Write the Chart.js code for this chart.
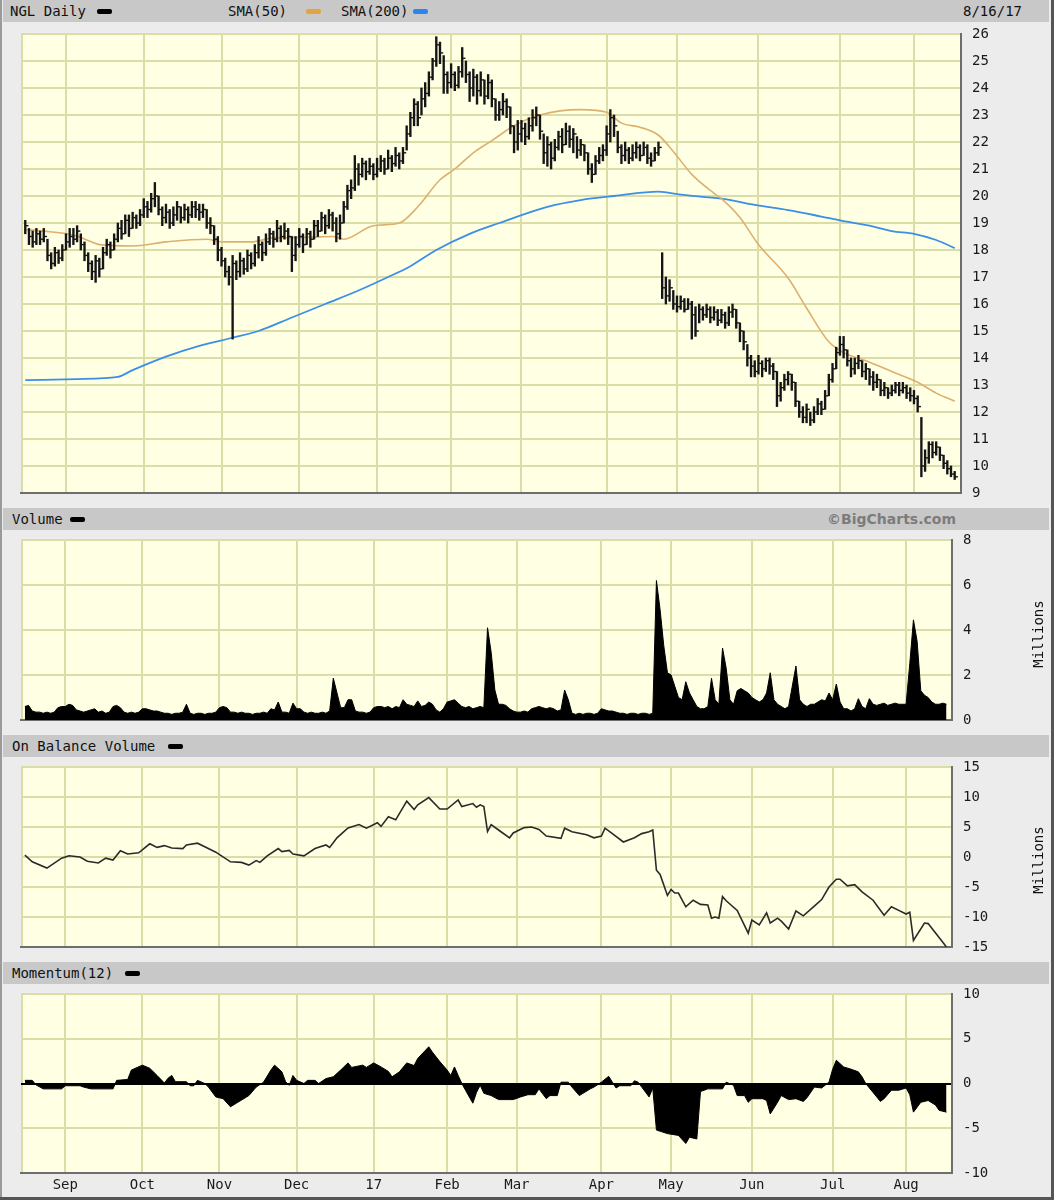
<!DOCTYPE html>
<html>
<head>
<meta charset="utf-8">
<script src="https://cdn.jsdelivr.net/npm/chart.js@4.4.1/dist/chart.umd.min.js"></script>
<style>
  body { margin: 0; background: #fff; }
  #wrap { position: relative; width: 1054px; height: 1200px; background: #ececec; overflow: hidden;
          font-family: 'DejaVu Sans Mono', monospace; font-size: 14px; color: #111; }
  .hdr { position: absolute; left: 3px; width: 1046px; height: 22px; background: #c8c8c8; }
  .hdr span { position: absolute; top: 11px; transform: translateY(-50%); white-space: pre; }
  .sw { position: absolute; top: 9px; width: 15px; height: 5px; border-radius: 2px; }
  canvas { position: absolute; left: 0; }
  .mil { position: absolute; transform: translate(-50%, -50%) rotate(-90deg); white-space: nowrap; }
  .edge { position: absolute; }
</style>
</head>
<body>
<div id="wrap">
  <div class="hdr" style="top:0">
    <span style="left:7px">NGL Daily</span><div class="sw" style="left:94px;background:#000"></div>
    <span style="left:225px">SMA(50)</span><div class="sw" style="left:303px;background:#e3a43c"></div>
    <span style="left:338px">SMA(200)</span><div class="sw" style="left:410px;background:#2a86ee"></div>
    <span style="right:27px">8/16/17</span>
  </div>
  <div class="hdr" style="top:508px">
    <span style="left:9px">Volume</span><div class="sw" style="left:67px;background:#000"></div>
    <span style="right:93px;font-family:'DejaVu Sans',sans-serif;font-weight:bold;color:#7c7c7c">©BigCharts.com</span>
  </div>
  <div class="hdr" style="top:735px">
    <span style="left:9px">On Balance Volume</span><div class="sw" style="left:165px;background:#000"></div>
  </div>
  <div class="hdr" style="top:962px">
    <span style="left:9px">Momentum(12)</span><div class="sw" style="left:122px;background:#000"></div>
  </div>

  <canvas id="price" width="1054" height="479" style="top:24px"></canvas>
  <canvas id="volume" width="1054" height="200" style="top:530px"></canvas>
  <canvas id="obv" width="1054" height="200" style="top:757px"></canvas>
  <canvas id="mom" width="1054" height="211" style="top:984px"></canvas>

  <div class="mil" style="left:1038px;top:634px">Millions</div>
  <div class="mil" style="left:1038px;top:860px">Millions</div>

  <div class="edge" style="left:0;top:0;width:2px;height:1200px;background:#9a9a9a"></div>
  <div class="edge" style="left:1051px;top:0;width:3px;height:1200px;background:#555"></div>
  <div class="edge" style="left:0;top:1197px;width:1054px;height:3px;background:#555"></div>
</div>

<script>
'use strict';

// trading day index of each month start (0 = Aug 17 2016)
const monthIdx = [11, 32, 53, 74, 95, 115, 134, 157, 176, 198, 220, 240];
const monthLbl = ['Sep', 'Oct', 'Nov', 'Dec', '17', 'Feb', 'Mar', 'Apr', 'May', 'Jun', 'Jul', 'Aug'];

// daily bars
const hi = [19.1,18.8,18.7,18.8,18.7,18.8,18.4,17.9,18.1,18.0,18.2,
  18.6,18.8,18.8,18.9,18.6,18.3,17.9,17.6,17.8,17.7,18.1,18.4,18.3,18.6,19.0,19.1,19.3,19.3,19.4,19.3,19.5,
  19.9,19.8,20.1,20.5,20.0,19.6,19.7,19.5,19.6,19.8,19.6,19.7,19.6,19.8,19.8,19.7,19.7,19.5,19.2,18.9,18.5,
  18.1,17.7,17.4,17.8,17.6,17.9,17.7,18.0,17.9,18.2,18.5,18.3,18.6,18.8,18.7,19.1,18.9,19.0,18.8,18.5,18.5,
  18.8,18.6,18.8,18.7,19.1,19.1,19.4,19.3,19.5,19.4,19.2,19.3,19.8,20.4,20.6,21.5,21.2,21.4,21.3,21.4,21.2,
  21.4,21.5,21.4,21.7,21.5,21.8,21.6,21.8,22.6,23.1,23.6,23.5,24.0,24.2,24.6,25.1,25.9,25.7,25.2,24.6,
  24.9,24.6,24.8,25.5,25.0,24.6,24.7,24.5,24.6,24.3,24.5,24.3,23.6,23.5,23.8,23.6,23.3,22.6,22.8,
  22.8,22.7,22.9,23.2,23.3,23.0,22.3,22.2,22.0,22.1,22.4,22.5,22.7,22.6,22.5,22.2,22.1,21.9,21.6,21.2,21.5,21.8,21.9,
  22.6,23.2,23.0,22.4,21.9,22.0,21.8,21.9,22.0,21.9,22.0,21.9,21.6,21.8,22.0,
  17.9,17.0,16.9,16.5,16.3,16.3,16.2,16.2,16.1,15.9,16.0,15.9,16.0,15.9,15.9,15.8,15.8,15.7,15.9,16.0,15.8,15.3,15.0,14.5,14.1,13.9,
  14.1,13.9,14.0,14.0,13.8,13.5,13.1,13.4,13.5,13.4,13.1,12.4,12.2,12.3,12.0,12.2,12.5,12.4,12.8,13.4,13.8,14.4,
  14.8,14.8,14.3,14.0,14.0,14.1,13.9,13.8,13.6,13.5,13.4,13.2,13.1,12.9,13.0,13.1,13.1,13.1,13.0,12.9,
  12.8,12.6,11.8,10.6,10.9,10.9,10.9,10.7,10.4,10.2,10.0,9.8];
const lo = [18.6,18.2,18.1,18.2,18.2,18.3,17.6,17.3,17.4,17.5,17.6,
  18.0,18.1,18.2,18.3,18.0,17.6,17.2,16.9,16.8,17.0,17.3,17.8,17.7,18.0,18.3,18.4,18.6,18.5,18.8,18.8,18.9,
  19.2,19.2,19.4,19.6,19.3,18.9,19.0,18.8,18.9,19.1,19.0,19.1,19.0,19.2,19.2,19.1,19.2,18.8,18.6,18.2,17.6,
  17.4,17.0,16.7,14.7,16.9,17.0,17.1,17.2,17.3,17.4,17.7,17.6,17.8,18.2,18.1,18.3,18.3,18.4,18.2,17.2,17.6,
  18.1,17.9,18.2,18.1,18.4,18.5,18.7,18.6,18.8,18.7,18.3,18.4,19.0,19.5,19.9,20.2,20.4,20.7,20.6,20.8,20.6,
  20.7,20.9,20.8,21.0,20.9,21.1,21.0,21.2,21.7,22.2,22.6,22.6,23.0,23.3,23.7,24.3,24.8,24.9,23.8,23.8,
  24.0,23.9,24.0,24.4,24.2,23.5,23.7,23.4,23.7,23.4,23.6,23.3,22.8,22.8,23.0,22.9,22.3,21.6,21.7,
  22.0,21.9,22.1,22.4,22.6,22.1,21.2,21.1,21.0,21.3,21.7,21.6,21.9,21.8,21.6,21.4,21.5,21.3,20.8,20.5,20.8,21.2,21.3,
  21.5,22.0,22.2,21.6,21.2,21.3,21.2,21.3,21.4,21.3,21.5,21.2,21.1,21.3,21.5,
  16.2,16.0,16.1,15.8,15.7,15.8,15.7,15.8,14.7,14.8,15.3,15.4,15.5,15.3,15.4,15.2,15.3,15.1,15.2,15.5,15.1,14.6,14.3,13.7,13.3,13.3,
  13.4,13.3,13.5,13.4,13.2,12.2,12.4,12.8,13.0,12.8,12.2,11.8,11.6,11.6,11.5,11.6,11.9,11.9,12.1,12.6,13.1,13.6,
  14.1,14.0,13.7,13.3,13.4,13.6,13.3,13.2,13.0,12.8,12.9,12.6,12.6,12.5,12.6,12.7,12.6,12.7,12.5,12.4,
  12.3,12.0,9.6,9.8,10.1,10.3,10.4,10.2,9.9,9.7,9.6,9.5];
const cl = [18.9,18.5,18.3,18.6,18.4,18.5,17.8,17.5,17.9,17.7,18.0,
  18.3,18.5,18.4,18.7,18.2,17.8,17.5,17.2,17.6,17.3,17.9,18.2,18.0,18.4,18.8,18.6,19.1,18.8,19.2,19.0,19.3,
  19.6,19.5,19.9,20.0,19.5,19.2,19.4,19.0,19.3,19.6,19.2,19.5,19.3,19.6,19.5,19.4,19.5,19.0,18.9,18.4,18.0,
  17.6,17.2,17.0,17.5,17.2,17.6,17.3,17.8,17.5,17.9,18.2,17.9,18.3,18.6,18.4,18.8,18.5,18.7,18.5,17.8,18.2,
  18.5,18.2,18.6,18.4,18.9,18.7,19.2,18.9,19.3,19.0,18.6,19.0,19.6,20.2,20.3,21.0,20.8,21.2,20.9,21.1,20.8,
  21.0,21.3,21.0,21.4,21.2,21.5,21.3,21.6,22.3,22.9,23.4,22.9,23.6,23.8,24.4,25.0,25.6,25.3,24.5,24.2,
  24.5,24.1,24.6,25.1,24.5,24.0,24.4,23.9,24.3,23.7,24.2,23.6,23.0,23.2,23.5,23.3,22.6,22.0,22.3,
  22.5,22.2,22.6,22.9,23.0,22.4,21.6,21.9,21.4,21.8,22.2,21.9,22.4,22.1,22.3,21.7,21.9,21.6,21.0,20.8,21.3,21.5,21.7,
  22.3,22.9,22.6,21.8,21.5,21.7,21.4,21.6,21.8,21.5,21.8,21.4,21.3,21.6,21.8,
  16.6,16.3,16.6,16.0,15.9,16.1,15.8,16.0,15.6,15.0,15.8,15.6,15.8,15.5,15.7,15.4,15.6,15.3,15.7,15.8,15.3,15.0,14.6,14.0,13.7,13.5,
  13.8,13.6,13.9,13.7,13.5,12.6,12.9,13.2,13.4,13.1,12.4,12.0,11.8,12.1,11.7,12.0,12.3,12.1,12.6,13.2,13.6,14.2,
  14.5,14.3,13.9,13.6,13.8,13.9,13.5,13.6,13.3,13.1,13.2,12.8,12.9,12.7,12.8,13.0,12.8,12.9,12.7,12.6,
  12.5,12.2,10.0,10.3,10.8,10.5,10.7,10.4,10.1,9.9,9.7,9.6];

// volume, millions
const vol = [0.6,0.65,0.4,0.35,0.35,0.3,0.35,0.3,0.35,0.55,0.6,
  0.6,0.7,0.65,0.45,0.4,0.35,0.4,0.45,0.5,0.35,0.4,0.3,0.35,0.6,0.65,0.55,0.35,0.3,0.35,0.3,0.35,
  0.5,0.5,0.45,0.4,0.4,0.35,0.3,0.3,0.25,0.3,0.3,0.35,0.7,0.3,0.25,0.3,0.3,0.25,0.3,0.3,0.35,
  0.55,0.6,0.55,0.35,0.35,0.3,0.35,0.3,0.3,0.25,0.3,0.3,0.35,0.3,0.5,0.45,0.8,0.35,0.35,0.3,0.75,
  0.5,0.5,0.35,0.3,0.35,0.3,0.3,0.35,0.3,0.4,1.86,1.2,0.55,0.55,0.9,0.9,0.4,0.35,0.35,0.3,0.35,
  0.55,0.6,0.6,0.55,0.6,0.5,0.6,0.55,0.9,0.7,0.65,0.6,0.85,0.6,0.65,0.8,0.7,0.45,0.35,0.5,
  0.8,0.85,0.9,0.75,0.6,0.55,0.6,0.5,0.55,0.6,0.55,4.1,3.0,1.33,0.7,0.7,0.65,0.5,0.4,
  0.35,0.35,0.4,0.35,0.5,0.55,0.6,0.55,0.5,0.55,0.5,0.4,0.45,1.33,0.9,0.3,0.25,0.3,0.25,0.3,0.3,0.25,0.3,
  0.5,0.45,0.4,0.4,0.35,0.3,0.3,0.25,0.3,0.3,0.25,0.3,0.3,0.25,0.3,
  6.2,4.9,3.3,2.1,2.0,1.5,1.0,0.9,1.7,1.2,0.9,0.6,0.5,0.5,0.6,1.85,0.9,0.7,3.2,2.3,0.9,0.7,1.3,1.4,1.3,1.2,
  1.0,0.9,0.8,0.9,1.2,2.1,0.9,0.7,0.6,0.5,0.6,1.5,2.4,0.9,0.7,0.6,0.7,0.7,0.8,0.9,0.85,1.2,
  0.9,1.6,0.8,0.5,0.5,0.4,0.5,0.95,0.6,0.5,0.95,0.7,0.65,0.7,0.75,0.65,0.7,0.75,0.7,0.7,
  0.7,2.5,4.45,3.5,1.3,1.1,1.0,0.8,0.7,0.7,0.75,0.7];

// moving averages, read at selected days
const sma50Day = [0,5,13,18,20,29,38,49,53,61,67,76,83,86,94,101,106,112,116,121,126,132,139,150,157,161,166,171,175,180,186,188,193,198,206,211,217,221,227,234,241,246,251];
const sma50Val = [18.75,18.7,18.55,18.3,18.2,18.15,18.3,18.4,18.3,18.3,18.45,18.47,18.5,18.4,18.9,19.0,19.6,20.6,21.0,21.6,22.05,22.6,23.0,23.2,23.1,22.7,22.55,22.25,21.65,20.8,20.1,19.9,19.2,18.2,16.96,15.85,14.6,14.2,13.9,13.5,13.1,12.7,12.4];
const sma200Day = [0,14,25,29,38,47,56,63,72,81,90,98,104,111,120,128,141,150,159,171,177,188,197,206,215,220,228,234,240,246,251];
const sma200Val = [13.18,13.22,13.3,13.55,14.05,14.45,14.75,15.0,15.5,16.0,16.5,17.0,17.4,18.0,18.6,19.0,19.6,19.85,20.0,20.16,20.05,19.9,19.67,19.48,19.24,19.1,18.9,18.7,18.6,18.37,18.07];

// on balance volume, millions
const obvDay = [0,2,6,10,12,15,17,20,22,24,26,28,31,34,36,38,40,43,44,47,49,52,56,59,61,63,64,66,69,70,72,73,76,79,82,83,85,88,91,93,96,97,99,101,104,106,107,110,113,115,118,119,122,123,124,125,126,127,129,132,133,136,138,140,142,146,147,149,153,155,157,158,160,163,166,168,170,171,172,173,175,176,177,178,180,182,184,186,187,188,189,190,191,194,197,198,200,202,203,205,206,208,210,212,215,217,219,221,222,224,226,228,231,234,236,238,240,241,242,245,246,251];
const obvVal = [0.3,-0.8,-1.85,-0.2,0.2,0,-0.7,-1.0,-0.2,-0.5,1.05,0.5,0.7,2.2,1.6,1.9,1.5,1.4,2.0,2.3,1.7,0.8,-0.8,-0.9,-1.35,-0.6,-0.9,0.2,1.4,0.9,1.1,0.5,0.2,1.4,2.0,1.6,3.2,4.85,5.4,4.8,5.7,5.1,6.7,6.2,9.3,7.9,8.7,9.9,8.0,8.0,9.5,8.4,8.9,8.3,8.7,8.4,4.25,5.4,4.5,3.2,4.0,4.9,5.0,4.6,3.5,3.1,4.8,4.2,3.7,3.2,3.5,4.8,3.9,2.5,3.2,3.9,4.2,4.5,-2.2,-2.9,-6.4,-5.4,-6.0,-6.0,-8.3,-7.2,-7.9,-8.0,-10.2,-10.0,-10.2,-6.6,-7.3,-8.9,-12.7,-10.5,-11.3,-9.3,-11.0,-10.2,-10.7,-12.0,-9.0,-9.8,-8.2,-7.1,-5.0,-3.7,-3.7,-4.8,-4.6,-5.8,-7.2,-9.7,-8.3,-8.9,-9.5,-9.2,-13.9,-11.0,-11.1,-15.0];

// momentum(12)
const momDay = [0,2,3,5,10,11,15,16,18,24,25,28,29,32,34,36,38,39,40,41,44,45,46,47,49,50,52,54,56,58,61,63,65,67,68,70,71,72,73,74,76,77,79,80,82,84,86,88,89,92,93,95,97,99,100,102,104,106,107,110,111,113,115,116,117,118,119,120,122,123,124,125,127,129,133,135,137,139,140,142,143,145,146,148,149,151,152,154,155,157,159,160,161,162,165,166,167,168,170,171,172,175,178,180,181,183,184,186,190,191,193,194,196,197,198,201,202,203,205,206,208,210,212,213,215,217,219,220,221,223,225,227,228,229,231,233,234,236,238,240,241,242,244,246,248,249,251];
const momVal = [0.35,0.35,-0.15,-0.6,-0.6,-0.25,-0.25,-0.4,-0.6,-0.6,0.35,0.45,1.5,2.05,1.7,0.9,0.05,0.6,0.9,0.2,0.2,-0.25,-0.25,0.35,0.0,-0.4,-1.5,-1.7,-2.6,-2.1,-1.35,-0.4,0.15,1.5,2.05,1.3,0.2,-0.2,0.9,0.35,0.0,0.35,0.35,0.0,0.55,0.75,1.5,2.3,1.8,2.05,1.8,2.3,1.85,1.35,0.75,1.3,2.3,2.0,2.8,4.1,3.5,2.45,1.5,0.9,1.85,0.9,0,-0.75,-2.2,-1.0,-0.2,-1.1,-1.35,-1.8,-1.8,-1.5,-1.25,-1.25,-0.6,-1.7,-1.35,-1.35,0.15,0.15,-0.4,-1.35,-1.1,-0.6,-0.4,0.15,0.8,0.15,-0.5,-0.25,-0.25,0.3,0.15,-0.4,-1.5,-0.5,-5.2,-5.6,-5.8,-6.7,-6.0,-6.2,-0.9,-0.6,-0.6,0.15,-0.2,-1.35,-1.35,-2.1,-1.7,-1.7,-1.9,-3.4,-2.1,-1.35,-1.8,-1.7,-2.0,-1.6,-0.4,-0.5,0.15,1.6,2.6,1.85,1.6,1.3,0.75,0,-1.0,-2.0,-1.7,-0.75,-0.75,-0.5,-1.25,-3.2,-2.1,-1.9,-2.4,-3.0,-3.2];

const mono = "'DejaVu Sans Mono', monospace";
const gridCol = '#dcdca6';
const frameCol = '#6e6e6e';
Chart.defaults.font.family = mono;
Chart.defaults.font.size = 14;
Chart.defaults.color = '#1a1a1a';

function pairs(xs, ys) {
  return xs.map((x, i) => ({ x: x, y: ys[i] }));
}

const plotBg = {
  id: 'plotBg',
  beforeDraw(chart) {
    const a = chart.chartArea;
    const c = chart.ctx;
    c.save();
    c.fillStyle = '#ffffe3';
    c.fillRect(a.left, a.top, a.right - a.left, a.bottom - a.top);
    c.strokeStyle = gridCol;
    c.lineWidth = 2;
    c.beginPath();
    c.moveTo(a.left + 1, a.top);
    c.lineTo(a.left + 1, a.bottom);
    c.stroke();
    c.restore();
  }
};

function xAxis(min, max, labels) {
  return {
    type: 'linear', min: min, max: max, offset: false,
    grid: { color: gridCol, lineWidth: 2, drawTicks: false, offset: false },
    border: { display: true, color: frameCol, width: 2 },
    ticks: { display: labels, autoSkip: false, maxRotation: 0, padding: 4,
             callback: (v, i) => monthLbl[i] },
    afterBuildTicks: s => { s.ticks = monthIdx.map(v => ({ value: v })); },
    afterFit: s => {
      s.height = labels ? 22 : 0;
      s.paddingLeft = 0; s.paddingRight = 0;
    }
  };
}

function yAxis(min, max, step, w, darkZero) {
  return {
    type: 'linear', position: 'right', min: min, max: max,
    grid: { color: c => (darkZero && c.tick && c.tick.value === 0) ? '#000' : gridCol,
            lineWidth: 2, drawTicks: false },
    border: { display: true, color: frameCol, width: 2 },
    ticks: { stepSize: step, autoSkip: false, padding: 11 },
    afterFit: s => {
      s.width = w;
      s.paddingTop = 0; s.paddingBottom = 0;
    }
  };
}

function baseOptions(x, y, bottomPad) {
  return {
    responsive: false, animation: false, events: [],
    layout: { padding: { left: 21, right: 0, top: 10, bottom: bottomPad } },
    plugins: { legend: { display: false }, tooltip: { enabled: false } },
    scales: { x: x, y: y }
  };
}

// price panel
new Chart(document.getElementById('price'), {
  type: 'line',
  data: {
    datasets: [
      { type: 'line', data: pairs(sma50Day, sma50Val), borderColor: '#ddb070', borderWidth: 1.6,
        pointRadius: 0, cubicInterpolationMode: 'monotone', order: 3 },
      { type: 'line', data: pairs(sma200Day, sma200Val), borderColor: '#3b8fe8', borderWidth: 1.8,
        pointRadius: 0, cubicInterpolationMode: 'monotone', order: 3 },
      { type: 'bar', data: hi.map((h, i) => ({ x: i, y: [lo[i], h] })), backgroundColor: '#151515',
        barThickness: 1.7, grouped: false, order: 1 },
      { type: 'scatter', data: cl.map((c, i) => ({ x: i + 0.45, y: c })), pointStyle: 'line',
        radius: 1.6, borderWidth: 1.4, borderColor: '#151515', order: 0 }
    ]
  },
  options: baseOptions(xAxis(-1.15, 252.7, false), yAxis(9, 26, 1, 93, false), 10),
  plugins: [plotBg]
});

const lowX = [-1.06, 252.5];

// volume panel
new Chart(document.getElementById('volume'), {
  type: 'line',
  data: { datasets: [
    { data: vol.map((v, i) => ({ x: i, y: v })), borderColor: '#000', backgroundColor: '#000',
      borderWidth: 1, pointRadius: 0, fill: 'origin' }
  ] },
  options: baseOptions(xAxis(lowX[0], lowX[1], false), yAxis(0, 8, 2, 102, false), 10),
  plugins: [plotBg]
});

// on balance volume panel
new Chart(document.getElementById('obv'), {
  type: 'line',
  data: { datasets: [
    { data: pairs(obvDay, obvVal), borderColor: '#2a2a2a', borderWidth: 1.6, pointRadius: 0 }
  ] },
  options: baseOptions(xAxis(lowX[0], lowX[1], false), yAxis(-15, 15, 5, 102, false), 10),
  plugins: [plotBg]
});

// momentum panel
new Chart(document.getElementById('mom'), {
  type: 'line',
  data: { datasets: [
    { data: pairs(momDay, momVal), borderColor: '#000', backgroundColor: '#000',
      borderWidth: 1, pointRadius: 0, fill: 'origin' }
  ] },
  options: baseOptions(xAxis(lowX[0], lowX[1], true), yAxis(-10, 10, 5, 102, true), 0),
  plugins: [plotBg]
});
</script>
</body>
</html>
